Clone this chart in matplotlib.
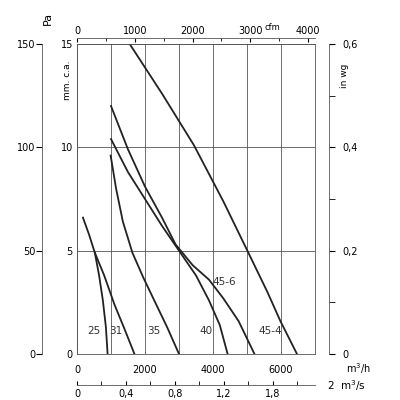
import numpy as np
import matplotlib.pyplot as plt

# fan curves: flow (m3/h) vs static pressure (mm c.a.)
curves = {
    "25": ([175, 350, 525, 650, 760, 850, 900], [6.6, 5.8, 4.9, 3.8, 2.6, 1.3, 0.0]),
    "31": ([525, 800, 1100, 1400, 1690], [4.9, 3.8, 2.4, 1.2, 0.0]),
    "35": ([990, 1150, 1350, 1630, 1950, 2270, 2650, 3000],
           [9.6, 8.0, 6.4, 4.9, 3.7, 2.6, 1.3, 0.0]),
    "40": ([1000, 1500, 2000, 2500, 3000, 3500, 3880, 4200, 4430],
           [10.4, 8.8, 7.5, 6.2, 5.0, 3.8, 2.6, 1.4, 0.0]),
    "45-6": ([1000, 1500, 2000, 2500, 2900, 3400, 3880, 4300, 4750, 5220],
             [12.0, 9.9, 8.1, 6.6, 5.3, 4.3, 3.6, 2.7, 1.6, 0.0]),
    "45-4": ([1550, 2500, 3440, 4300, 5040, 5600, 5980, 6470],
             [15.0, 12.6, 10.1, 7.4, 4.9, 3.0, 1.6, 0.0]),
}
labels = {"25": (500, 1.1), "31": (1140, 1.1), "35": (2270, 1.1),
          "40": (3790, 1.1), "45-4": (5690, 1.1), "45-6": (4340, 3.5)}

plt.rcParams["font.size"] = 7
fig = plt.figure(figsize=(4, 4), dpi=100)
ax = fig.add_axes([0.1925, 0.115, 0.595, 0.775])
ax.set_xlim(0, 7000)
ax.set_ylim(0, 15)
ax.set_xticks(range(0, 7001, 1000))
ax.set_xticklabels(["0", "", "2000", "", "4000", "", "6000", ""])
ax.set_yticks([0, 5, 10, 15])
ax.tick_params(axis="x", length=0, pad=8)
ax.tick_params(axis="y", length=0, pad=3)
ax.grid(color="#555555", linewidth=0.6)
ax.set_axisbelow(True)
for s in ax.spines.values():
    s.set_color("#555555")
    s.set_linewidth(0.6)

for name, (x, y) in curves.items():
    ax.plot(x, y, color="#222222", linewidth=1.3)
for name, (x, y) in labels.items():
    ax.text(x, y, name, ha="center", va="center", fontsize=7.5, color="#333333")

# Pa axis (outer left)
pa = ax.secondary_yaxis("left", functions=(lambda y: y * 10, lambda y: y / 10))
pa.spines["left"].set_position(("outward", 25))
pa.set_yticks([0, 50, 100, 150])
pa.tick_params(length=4, pad=1)
# in wg axis (right)
wg = ax.secondary_yaxis("right", functions=(lambda y: y / 25, lambda y: y * 25))
wg.spines["right"].set_position(("outward", 10))
wg.set_yticks([0, 0.2, 0.4, 0.6])
wg.set_yticklabels(["0", "0,2", "0,4", "0,6"])
wg.set_yticks([0.1, 0.3, 0.5], minor=True)
wg.tick_params(length=4, pad=6)
wg.tick_params(which="minor", length=4)
# cfm axis (top)
cfm = ax.secondary_xaxis("top", functions=(lambda x: x / 1.699, lambda x: x * 1.699))
cfm.spines["top"].set_position(("outward", 4))
cfm.set_xticks(range(0, 4001, 1000))
cfm.set_xticks(range(500, 4000, 1000), minor=True)
cfm.tick_params(length=3, pad=2, direction="in")
cfm.tick_params(which="minor", length=2, direction="in")
# m3/s axis (bottom)
ms = ax.secondary_xaxis("bottom", functions=(lambda x: x / 3600, lambda x: x * 3600))
ms.spines["bottom"].set_position(("outward", 22))
ms.set_xticks([0, 0.4, 0.8, 1.2, 1.6])
ms.set_xticklabels(["0", "0,4", "0,8", "1,2", "1,8"])
ms.set_xticks([0.2, 0.6, 1.0, 1.4, 1.8], minor=True)
ms.tick_params(length=3, pad=3, direction="in")
ms.tick_params(which="minor", length=3, direction="in")
for a in (pa, wg, cfm, ms):
    for s in a.spines.values():
        s.set_color("#555555")
        s.set_linewidth(0.6)

fig.text(0.12, 0.955, "Pa", rotation=90, ha="center", va="center", fontsize=8)
fig.text(0.17, 0.80, "mm. c.a.", rotation=90, ha="center", va="center", fontsize=6.5)
fig.text(0.862, 0.81, "in wg", rotation=90, ha="center", va="center", fontsize=6.5)
fig.text(0.68, 0.932, "cfm", ha="center", va="center", fontsize=6)
fig.text(0.895, 0.078, "m$^3$/h", ha="center", va="center", fontsize=7)
fig.text(0.865, 0.035, "2  m$^3$/s", ha="center", va="center", fontsize=7.5)

fig.savefig("out.png", dpi=100)
